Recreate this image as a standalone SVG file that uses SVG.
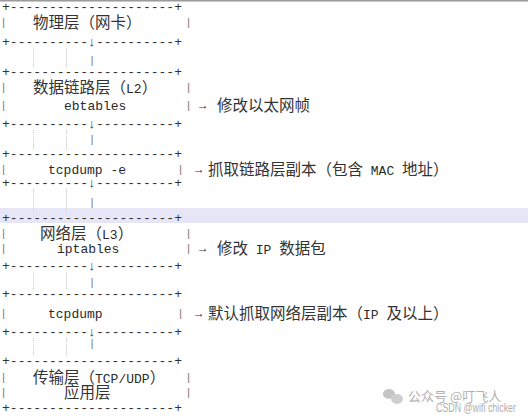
<svg xmlns="http://www.w3.org/2000/svg" width="528" height="419" viewBox="0 0 528 419">
<style>
  text { font-family: "Liberation Mono", "DejaVu Sans Mono", monospace; font-size: 13px; fill: #2a2a2a; }
  .c { font-family: "Noto Sans CJK SC", "Noto Sans", sans-serif; font-size: 15.5px; fill: #333; }
  .b { fill: #333; }
  .v { font-size: 11px; fill: #777; text-anchor: middle; }
  .a { font-size: 12px; fill: #333; }
  .g { stroke: #c8c8c8; stroke-width: 1; stroke-dasharray: 1 1; }
  .wm { font-family: "Noto Sans CJK SC", "Noto Sans", sans-serif; fill: #b0b0b0; }
</style>
<rect x="0" y="0" width="528" height="419" fill="#ffffff"/>
<rect x="0" y="0" width="528" height="1.5" fill="#9a9a9a"/>
<rect x="0" y="208" width="528" height="15" fill="#e6e6f7"/>

<g id="physical">
  <text class="b" x="2" y="10.5" textLength="180" lengthAdjust="spacing">+---------------------+</text>
  <text class="v" x="3.5" y="26">|</text>
  <text x="33" y="27.5"><tspan class="c">物理层（网卡）</tspan></text>
  <text class="v" x="188.5" y="26">|</text>
  <text class="b" x="2" y="45.5" textLength="86" lengthAdjust="spacing">+----------</text>
  <text class="b" x="96" y="45.5" textLength="86" lengthAdjust="spacing">----------+</text>
</g>

<g id="datalink">
  <text class="b" x="2" y="75.5" textLength="180" lengthAdjust="spacing">+---------------------+</text>
  <text class="v" x="3.5" y="91">|</text>
  <text x="33" y="92.5"><tspan class="c">数据链路层（</tspan>L2<tspan class="c">）</tspan></text>
  <text class="v" x="188.5" y="91">|</text>
  <text class="v" x="3.5" y="109">|</text>
  <text x="64" y="109.5">ebtables</text>
  <text class="v" x="188.5" y="109">|</text>
  <text class="a" x="199" y="109">→</text>
  <text x="217" y="110.5"><tspan class="c">修改以太网帧</tspan></text>
  <text class="b" x="2" y="127.5" textLength="86" lengthAdjust="spacing">+----------</text>
  <text class="b" x="96" y="127.5" textLength="86" lengthAdjust="spacing">----------+</text>
</g>

<g id="tcpdump-e">
  <text class="b" x="2" y="157.5" textLength="180" lengthAdjust="spacing">+---------------------+</text>
  <text class="v" x="3.5" y="173">|</text>
  <text x="48" y="173.5">tcpdump -e</text>
  <text class="v" x="180.5" y="173">|</text>
  <text class="a" x="195" y="173">→</text>
  <text x="208" y="174.5"><tspan class="c">抓取链路层副本（包含</tspan> MAC <tspan class="c">地址）</tspan></text>
  <text class="b" x="2" y="186.5" textLength="86" lengthAdjust="spacing">+----------</text>
  <text class="b" x="96" y="186.5" textLength="86" lengthAdjust="spacing">----------+</text>
</g>

<g id="network">
  <text class="b" x="2" y="221.5" textLength="180" lengthAdjust="spacing">+---------------------+</text>
  <text class="v" x="3.5" y="237">|</text>
  <text x="40" y="238.5"><tspan class="c">网络层（</tspan>L3<tspan class="c">）</tspan></text>
  <text class="v" x="188.5" y="237">|</text>
  <text class="v" x="3.5" y="252">|</text>
  <text x="57" y="252.5">iptables</text>
  <text class="v" x="188.5" y="252">|</text>
  <text class="a" x="199" y="252">→</text>
  <text x="217" y="253.5"><tspan class="c">修改</tspan> IP <tspan class="c">数据包</tspan></text>
  <text class="b" x="2" y="269.5" textLength="86" lengthAdjust="spacing">+----------</text>
  <text class="b" x="96" y="269.5" textLength="86" lengthAdjust="spacing">----------+</text>
</g>

<g id="tcpdump">
  <text class="b" x="2" y="297.5" textLength="180" lengthAdjust="spacing">+---------------------+</text>
  <text class="v" x="3.5" y="317">|</text>
  <text x="48" y="317.5">tcpdump</text>
  <text class="v" x="180.5" y="317">|</text>
  <text class="a" x="195" y="317">→</text>
  <text x="208" y="318.5"><tspan class="c">默认抓取网络层副本（</tspan>IP <tspan class="c">及以上）</tspan></text>
  <text class="b" x="2" y="335.5" textLength="86" lengthAdjust="spacing">+----------</text>
  <text class="b" x="96" y="335.5" textLength="86" lengthAdjust="spacing">----------+</text>
</g>

<g id="transport">
  <text class="b" x="2" y="364.5" textLength="180" lengthAdjust="spacing">+---------------------+</text>
  <text class="v" x="3.5" y="381">|</text>
  <text x="33" y="382.5"><tspan class="c">传输层（</tspan>TCP/UDP<tspan class="c">）</tspan></text>
  <text class="v" x="188.5" y="381">|</text>
  <text class="v" x="3.5" y="396">|</text>
  <text x="64" y="397.5"><tspan class="c">应用层</tspan></text>
  <text class="v" x="188.5" y="396">|</text>
  <text class="b" x="2" y="411.5" textLength="180" lengthAdjust="spacing">+---------------------+</text>
</g>

<g id="connectors">
  <text class="b" x="92" y="46" text-anchor="middle" font-size="11">↓</text>
  <line class="g" x1="33.5" y1="48" x2="33.5" y2="67"/>
  <line class="g" x1="66.5" y1="48" x2="66.5" y2="67"/>
  <text class="v" x="92" y="64">|</text>

  <text class="b" x="92" y="128" text-anchor="middle" font-size="11">↓</text>
  <line class="g" x1="33.5" y1="130" x2="33.5" y2="149"/>
  <line class="g" x1="66.5" y1="130" x2="66.5" y2="149"/>
  <text class="v" x="92" y="143">|</text>

  <text class="b" x="92" y="187" text-anchor="middle" font-size="11">↓</text>
  <line class="g" x1="33.5" y1="189" x2="33.5" y2="213"/>
  <line class="g" x1="66.5" y1="189" x2="66.5" y2="213"/>
  <text class="v" x="92" y="206">|</text>

  <text class="b" x="92" y="270" text-anchor="middle" font-size="11">↓</text>
  <line class="g" x1="33.5" y1="272" x2="33.5" y2="289"/>
  <line class="g" x1="66.5" y1="272" x2="66.5" y2="289"/>
  <text class="v" x="92" y="286">|</text>

  <text class="b" x="92" y="336" text-anchor="middle" font-size="11">↓</text>
  <line class="g" x1="33.5" y1="338" x2="33.5" y2="356"/>
  <line class="g" x1="66.5" y1="338" x2="66.5" y2="356"/>
  <text class="v" x="92" y="347">|</text>
</g>

<g id="watermark">
  <ellipse cx="389" cy="394" rx="6" ry="5" fill="#c4c4c4"/>
  <ellipse cx="397" cy="399" rx="6" ry="5" fill="#cfcfcf"/>
  <text class="wm" x="408" y="401" font-size="13">公众号 @叮飞人</text>
  <text class="wm" x="436" y="412" font-size="8.5" fill="#c8c8c8" textLength="80" lengthAdjust="spacingAndGlyphs" style="font-family:'Liberation Sans',sans-serif">CSDN @wifi chicker</text>
</g>
</svg>
